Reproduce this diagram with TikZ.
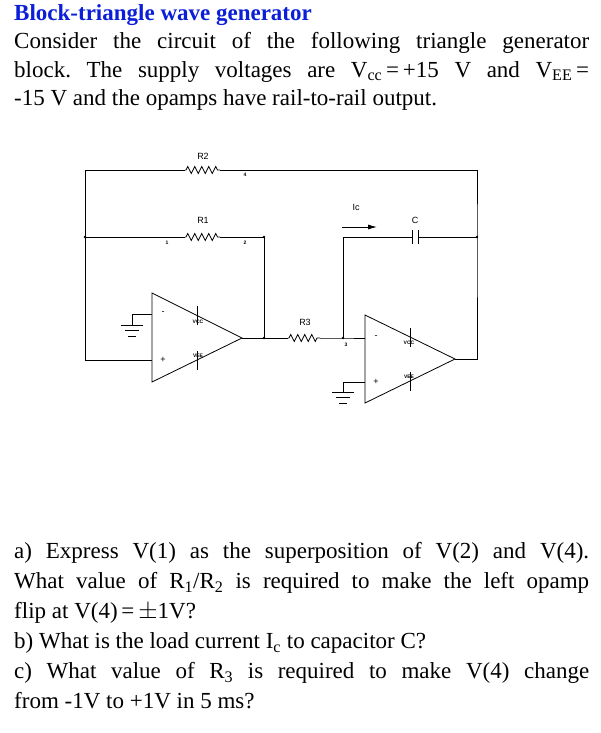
\documentclass[tikz,border=0pt]{standalone}
\usepackage{fontspec}
\setmainfont{Liberation Serif}
\newfontfamily\schfont{Liberation Sans}
\usetikzlibrary{decorations.pathmorphing,arrows.meta}
\frenchspacing
\begin{document}
\begin{tikzpicture}[x=1pt,y=-1pt,
  wire/.style={line width=0.8pt},
  res/.style={wire,decorate,decoration={zigzag,segment length=7pt,amplitude=3.5pt,pre length=1pt,post length=1pt}},
  lbl/.style={font=\schfont\fontsize{9}{9}\selectfont,inner sep=1pt},
  tiny/.style={font=\schfont\fontsize{5}{5}\selectfont\bfseries,inner sep=0.5pt},
  dot/.style={circle,fill,inner sep=0.9pt}]
  \useasboundingbox (0,0) rectangle (600,733);
  % Text oben
  \node[anchor=north west,inner sep=0pt,text width=575pt,align=justify,font=\fontsize{23}{28.5}\selectfont] (head) at (14,4)
    {\textcolor[HTML]{0B1FD8}{\textbf{Block-triangle wave generator}}\\
     Consider the circuit of the following triangle generator\linebreak block. The supply voltages are V\textsubscript{cc}\,=\,+15 V and V\textsubscript{EE}\,=\linebreak
     -15 V and the opamps have rail-to-rail output.};
  % Punkte
  \coordinate (TL) at (85,170);
  \coordinate (TR) at (477,170);
  \coordinate (n1) at (85,237);
  \coordinate (n2) at (264,237);
  \coordinate (o1) at (264,338);
  \coordinate (n3) at (343,338);
  \coordinate (c1) at (343,237);
  \coordinate (c2) at (477,237);
  % Linker Opamp
  \draw[wire] (152,293) -- (242,338) -- (152,382) -- cycle;
  \draw[wire] (197,306) -- (197,325);
  \draw[wire] (197,351) -- (197,370);
  \node[tiny] (vcc1) at (198,322) {VCC};
  \node[tiny] (vee1) at (198,356) {VEE};
  \node[lbl] (m1) at (163,313) {-};
  \node[lbl] (p1) at (163,360) {+};
  % Rechter Opamp
  \draw[wire] (365,315) -- (455,359) -- (365,403) -- cycle;
  \draw[wire] (410,328) -- (410,347);
  \draw[wire] (410,372) -- (410,391);
  \node[tiny] (vcc2) at (409,343) {VCC};
  \node[tiny] (vee2) at (409,377) {VEE};
  \node[lbl] (m2) at (376,337) {-};
  \node[lbl] (p2) at (376,382) {+};
  % Rueckkopplung
  \draw[wire] (n1) -- (TL) -- (185,170);
  \draw[res] (185,170) -- (220,170);
  \draw[wire] (220,170) -- (TR) -- (c2) -- (477,359) -- (455,359);
  \draw[wire] (n1) -- (185,237);
  \draw[res] (185,237) -- (220,237);
  \draw[wire] (220,237) -- (n2) -- (o1) -- (242,338);
  \draw[wire] (n1) -- (85,360) -- (152,360);
  \draw[wire] (o1) -- (288,338);
  \draw[res] (288,338) -- (320,338);
  \draw[wire] (320,338) -- (n3) -- (365,338);
  \draw[wire] (n3) -- (c1) -- (412,237);
  \draw[wire] (412,230) -- (412,244) (418,230) -- (418,244);
  \draw[wire] (418,237) -- (c2);
  % Masse
  \draw[wire] (152,314) -- (132,314) -- (132,325);
  \draw[wire] (121,325) -- (143,325) (125,330) -- (139,330);
  \draw[wire] (128,336) -- (136,336);
  \draw[wire] (365,382) -- (343,382) -- (343,392);
  \draw[wire] (332,392) -- (354,392) (336,397) -- (350,397);
  \draw[wire] (339,403) -- (347,403);
  \foreach \p in {n1,n2,o1,n3,c2} \node[dot] at (\p) {};
  % Beschriftungen
  \node[lbl] (R2) at (203,156) {R2};
  \node[lbl] (R1) at (203,220) {R1};
  \node[lbl] (R3) at (305,322) {R3};
  \node[lbl] (C) at (415,220) {C};
  \node[lbl] (Ic) at (356,207) {Ic};
  \node[tiny] (l4) at (245,175) {4};
  \node[tiny] (l1) at (167,243) {1};
  \node[tiny] (l2) at (245,243) {2};
  \node[tiny] (l3) at (346,345) {3};
  \draw[wire,-{Latex[length=9pt,width=5pt]}] (342,227) -- (377,227);
  % Fragen
  \node[anchor=north west,inner sep=0pt,text width=575pt,align=justify,font=\fontsize{23}{30}\selectfont] (qs) at (14,542)
    {a) Express V(1) as the superposition of V(2) and V(4).\linebreak What value of R\textsubscript{1}/R\textsubscript{2} is required to make the left opamp\linebreak flip at V(4)\,=\,$\pm$1V?\\
     b) What is the load current I\textsubscript{c} to capacitor C?\\
     c) What value of R\textsubscript{3} is required to make V(4) change\linebreak from -1V to +1V in 5 ms?};
\end{tikzpicture}
\end{document}
